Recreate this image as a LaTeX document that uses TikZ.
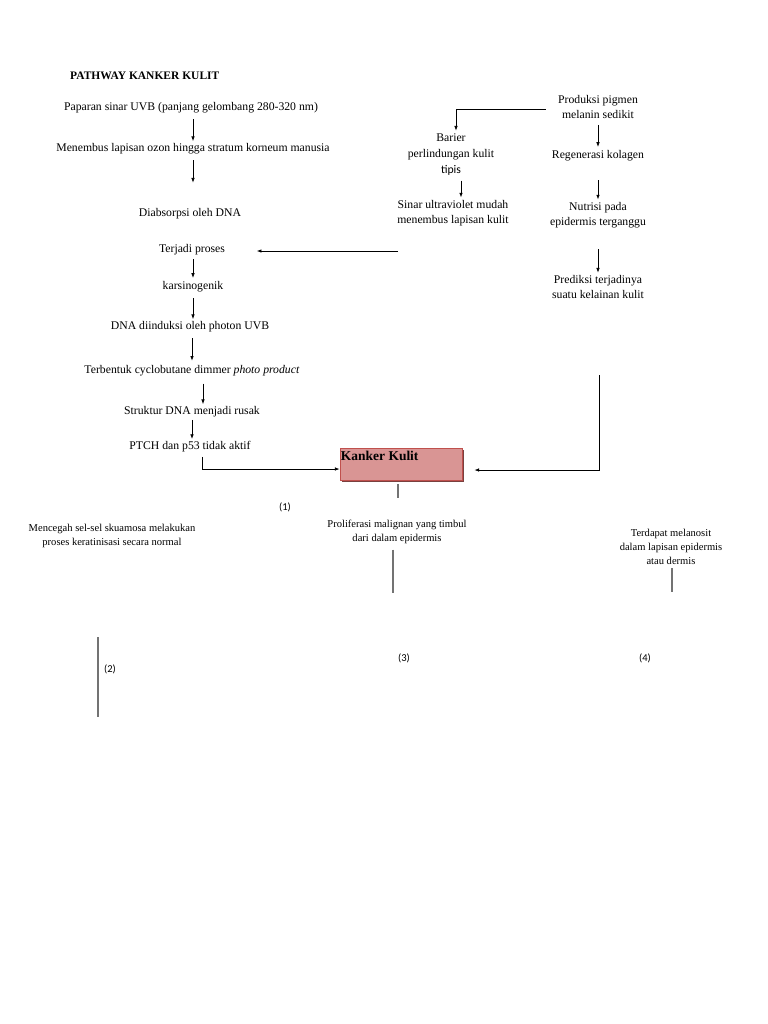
\documentclass[tikz,border=0pt]{standalone}
\usepackage{fontspec}
\setmainfont{Liberation Serif}
\newfontfamily\lblfont{Carlito}
\usetikzlibrary{arrows.meta,calc,shadows}

\definecolor{boxfill}{HTML}{D99594}
\definecolor{boxline}{HTML}{C0504D}

\begin{document}
\begin{tikzpicture}[x=0.03cm,y=-0.03cm]
		\tikzset{txtstyle/.style={align=center, inner sep=2pt, yshift=-1.7pt, font=\fontsize{10}{13}\selectfont},
			smallstyle/.style={align=center, inner sep=2pt, yshift=-1.7pt, font=\fontsize{9}{12.5}\selectfont},
			numstyle/.style={inner sep=1pt, font=\lblfont\fontsize{9}{10}\selectfont},
			arr/.style={-{Latex[length=4pt,width=3pt]}, line width=0.6pt},
			greyline/.style={draw=black!55, line width=0.9pt},
			recstyle/.style={rectangle, draw=boxline, fill=boxfill, line width=0.7pt, minimum width=3.66cm, minimum height=0.96cm, inner sep=0pt,
				drop shadow={shadow xshift=1.6pt, shadow yshift=-1.6pt, fill=boxline!55!black, opacity=0.9}}}
		\useasboundingbox (0,0) rectangle (768,1024);
		
		\node[anchor=west, inner sep=0pt, font=\bfseries\fontsize{9.8}{11}\selectfont] (txttitle) at (70,76) {PATHWAY KANKER KULIT};
		
		% left column
		\node[txtstyle] (txtpaparan) at (191,106) {Paparan sinar UVB (panjang gelombang 280-320 nm)};
		\node[txtstyle] (txtmenembus) at (193,147) {Menembus lapisan ozon hingga stratum korneum manusia};
		\node[txtstyle] (txtdiabsorpsi) at (190,212) {Diabsorpsi oleh DNA};
		\node[txtstyle] (txtterjadi) at (192,248) {Terjadi proses};
		\node[txtstyle] (txtkarsino) at (193,285) {karsinogenik};
		\node[txtstyle] (txtdnainduksi) at (190,325) {DNA diinduksi oleh photon UVB};
		\node[txtstyle] (txtcyclo) at (192,369) {Terbentuk cyclobutane dimmer \textit{photo product}};
		\node[txtstyle] (txtstruktur) at (192,410) {Struktur DNA menjadi rusak};
		\node[txtstyle] (txtptch) at (190,445) {PTCH dan p53 tidak aktif};
		
		% right columns
		\node[txtstyle] (txtproduksi) at (598,105) {Produksi pigmen\\melanin sedikit};
		\node[txtstyle, font=\fontsize{10}{13.6}\selectfont] (txtbarier) at (451,153) {Barier\\perlindungan kulit\\{\lblfont tipis}};
		\node[txtstyle] (txtsinar) at (453,211) {Sinar ultraviolet mudah\\menembus lapisan kulit};
		\node[txtstyle] (txtregen) at (598,154) {Regenerasi kolagen};
		\node[txtstyle] (txtnutrisi) at (598,213) {Nutrisi pada\\epidermis terganggu};
		\node[txtstyle] (txtprediksi) at (598,285) {Prediksi terjadinya\\suatu kelainan kulit};
		
		\node[recstyle] (txtkanker) at (401,464) {};
		\node[anchor=north west, inner sep=1pt, yshift=-2.2pt, font=\bfseries\fontsize{11.5}{13}\selectfont] (txtkankerlbl) at (txtkanker.north west) {Kanker Kulit};
		
		% bottom row
		\node[smallstyle] (txtmencegah) at (112,534) {Mencegah sel-sel skuamosa melakukan\\proses keratinisasi secara normal};
		\node[smallstyle] (txtproliferasi) at (397,530) {Proliferasi malignan yang timbul\\dari dalam epidermis};
		\node[smallstyle, font=\fontsize{9}{12}\selectfont] (txtmelanosit) at (671,545) {Terdapat melanosit\\dalam lapisan epidermis\\atau dermis};
		\node[numstyle] (num1) at (285,507) {(1)};
		\node[numstyle] (num2) at (110,669) {(2)};
		\node[numstyle] (num3) at (404,658) {(3)};
		\node[numstyle] (num4) at (645,658) {(4)};
		
		\draw [arr, shorten <=3pt] (txtmenembus.north |- txtpaparan.south) to (txtmenembus.north);
		\draw [arr, shorten <=3pt, shorten >=20pt] (txtmenembus.south) to (txtmenembus.south |- txtdiabsorpsi.north);
		\draw [arr, shorten <=1pt, shorten >=1pt] (txtkarsino.north |- txtterjadi.south) to (txtkarsino.north);
		\draw [arr, shorten <=3pt] (txtkarsino.south) to (txtkarsino.south |- txtdnainduksi.north);
		\draw [arr, shorten <=3pt, shorten >=2pt] (txtcyclo.north |- txtdnainduksi.south) to (txtcyclo.north);
		\draw [arr, shorten <=4pt] ($(txtcyclo.south)+(11,0)$) to ($(txtstruktur.north)+(11,0)$);
		\draw [arr] (txtstruktur.south) to (txtstruktur.south |- txtptch.north);
		\draw [arr] ($(txtptch.south)+(12,2)$) |- ($(txtkanker.west)+(0,5)$);
		
		\draw [arr] ($(txtproduksi.west)+(-10,2)$) -| ($(txtbarier.north)+(5,-1)$);
		\draw [arr, shorten <=2pt] ($(txtbarier.south)+(10,0)$) to ($(txtsinar.north)+(8,0)$);
		\coordinate (sinarout) at (398,251);
		\draw [arr, shorten >=25pt] (sinarout) to (txtterjadi.east |- sinarout);
		\draw [arr, shorten <=3pt, shorten >=1pt] (txtproduksi) to (txtregen);
		\draw [arr, shorten <=14pt] (txtregen) to (txtnutrisi);
		\draw [arr, shorten <=16pt] (txtnutrisi) to (txtprediksi);
		\coordinate (predout) at (599,375);
		\draw [arr] (predout) |- ($(txtkanker.east)+(12,6)$);
		
		\draw [greyline] ($(txtkanker.south)+(-3,4)$) -- ++(0,14);
		\draw [greyline] ($(txtproliferasi.south)+(-4,3)$) -- ++(0,43);
		\draw [greyline] ($(txtmelanosit.south)+(1,1)$) -- ++(0,24);
		\coordinate (leftline) at (98,637);
		\draw [greyline] (leftline) -- ++(0,80);
		
\end{tikzpicture}
\end{document}
